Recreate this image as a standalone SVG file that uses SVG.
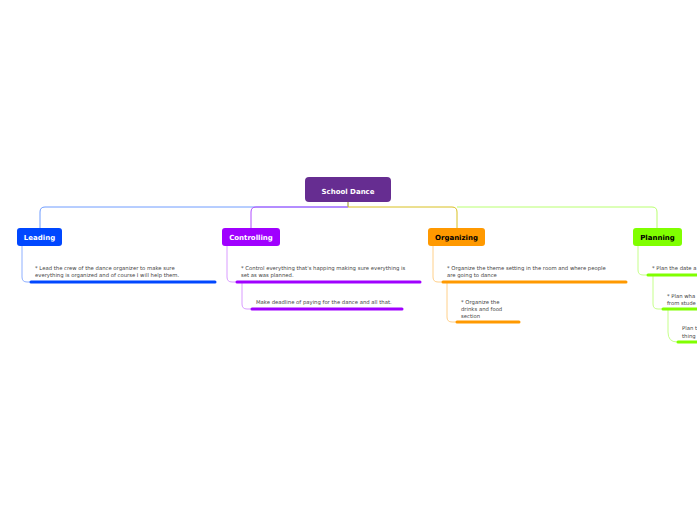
<svg xmlns="http://www.w3.org/2000/svg" width="697" height="520" viewBox="0 0 697 520">
<style>
.t{font-family:"DejaVu Sans","Liberation Sans",sans-serif;font-size:5.3px;fill:#444}
.n{font-family:"DejaVu Sans","Liberation Sans",sans-serif;font-size:7px;font-weight:bold}
.c{fill:none;stroke-width:1}
.u{fill:none;stroke-width:3;stroke-linecap:round}
</style>
<rect width="697" height="520" fill="#fff"/>
<g id="connectors">
<path class="c" d="M348 202V207H45Q40 207 40 212V228" stroke="#6e9cff"/>
<path class="c" d="M348 207H256Q251 207 251 212V228" stroke="#b04dff"/>
<path class="c" d="M348 202V207H452Q457 207 457 212V228" stroke="#d8c020"/>
<path class="c" d="M457 207H652Q657 207 657 212V228" stroke="#b9ff70"/>
<path class="c" d="M22 246V277Q22 282 27 282H30" stroke="#8fb0ff"/>
<path class="c" d="M227 246V277Q227 282 232 282H237" stroke="#d99cff"/>
<path class="c" d="M242 282V304Q242 309 247 309H251" stroke="#d99cff"/>
<path class="c" d="M433 246V277Q433 282 438 282H442" stroke="#ffd08a"/>
<path class="c" d="M447 282V317Q447 322 452 322H456" stroke="#ffd08a"/>
<path class="c" d="M638 246V270Q638 275 643 275H647" stroke="#c5ff8a"/>
<path class="c" d="M653 275V304Q653 309 658 309H662" stroke="#c5ff8a"/>
<path class="c" d="M668 309V332Q668 342 677 342" stroke="#c5ff8a"/>
</g>
<g id="root"><rect x="305" y="177" width="86" height="25" rx="4" fill="#662d91"/><text x="348" y="193.5" class="n" font-size="8.5" fill="#fff" text-anchor="middle">School Dance</text></g>
<g id="leading"><rect x="17" y="228" width="45" height="18" rx="3" fill="#0047ff"/><text x="39.5" y="240" class="n" fill="#fff" text-anchor="middle">Leading</text></g>
<g id="controlling"><rect x="222" y="228" width="58" height="18" rx="3" fill="#a000ff"/><text x="251" y="240" class="n" fill="#fff" text-anchor="middle">Controlling</text></g>
<g id="organizing"><rect x="428" y="228" width="57" height="18" rx="3" fill="#ff9900"/><text x="456.5" y="240" class="n" fill="#000" text-anchor="middle">Organizing</text></g>
<g id="planning"><rect x="633" y="228" width="49" height="18" rx="3" fill="#80ff00"/><text x="657.5" y="240" class="n" fill="#000" text-anchor="middle">Planning</text></g>
<g id="lead1"><text class="t" x="35" y="270">* Lead the crew of the dance organizer to make sure</text><text class="t" x="35" y="277">everything is organized and of course I will help them.</text><path class="u" d="M31 282H215" stroke="#0047ff"/></g>
<g id="ctrl1"><text class="t" x="241" y="270">* Control everything that's happing making sure everything is</text><text class="t" x="241" y="277">set as was planned.</text><path class="u" d="M237 282H420" stroke="#a000ff"/></g>
<g id="ctrl2"><text class="t" x="256" y="304">Make deadline of paying for the dance and all that.</text><path class="u" d="M252 309H402" stroke="#a000ff"/></g>
<g id="org1"><text class="t" x="447" y="270">* Organize the theme setting in the room and where people</text><text class="t" x="447" y="277">are going to dance</text><path class="u" d="M443 282H626" stroke="#ff9900"/></g>
<g id="org2"><text class="t" x="461" y="304">* Organize the</text><text class="t" x="461" y="311">drinks and food</text><text class="t" x="461" y="317.5">section</text><path class="u" d="M457 322H519" stroke="#ff9900"/></g>
<g id="plan1"><text class="t" x="652" y="270">* Plan the date a</text><path class="u" d="M648 275H700" stroke="#80ff00"/></g>
<g id="plan2"><text class="t" x="667" y="298">* Plan wha</text><text class="t" x="667" y="305">from stude</text><path class="u" d="M663 309H700" stroke="#80ff00"/></g>
<g id="plan3"><text class="t" x="682" y="330">Plan t</text><text class="t" x="682" y="337.5">thing</text><path class="u" d="M678 342H700" stroke="#80ff00"/></g>
</svg>
